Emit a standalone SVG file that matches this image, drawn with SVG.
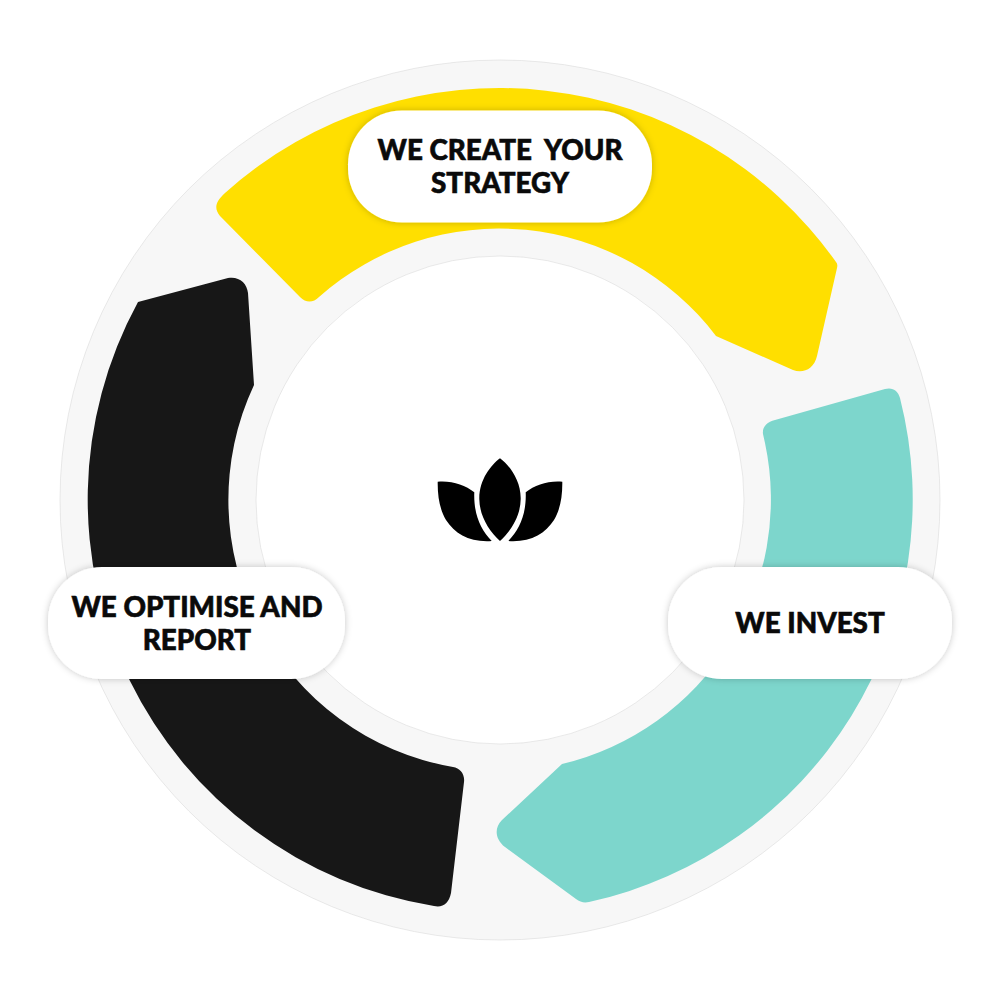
<svg xmlns="http://www.w3.org/2000/svg" width="1000" height="1000" viewBox="0 0 1000 1000">
<defs>
<filter id="pillShadow" x="-15%" y="-30%" width="130%" height="160%"><feDropShadow dx="0" dy="0" stdDeviation="3.500" flood-color="#000" flood-opacity="0.22"/></filter>
</defs>
<style>
.pill{fill:#fff;filter:url(#pillShadow)}
.lbl{font-family:"Lato","Liberation Sans",sans-serif;font-weight:900;font-size:27.8px;fill:#0a0a0a;stroke:#0a0a0a;stroke-width:.6px;text-anchor:middle;white-space:pre}
.ring{stroke:#d4d4d4;stroke-width:.5}
</style>
<rect width="1000" height="1000" fill="#fff"/>
<g id="ring">
<circle class="ring" cx="500" cy="500" r="440" fill="#f7f7f7"/>
<circle class="ring" cx="500" cy="500" r="244" fill="#fff"/>
</g>
<g id="connectors">
<path id="arc-yellow" fill="#ffdf00" d="M225 193A412 412 0 0 1 836 262Q838 264 837 268L817 356C814 369 803 374 793 370L716 336A272 272 0 0 0 319 297C313 303 306 303 300 297L220 216C214 209 215 202 225 193Z"/>
<path id="arc-teal" fill="#7dd6cc" d="M775 420L885 389C893 387 898 391 900 398A412 412 0 0 1 589 902C584 903 580 902 576 899L505 847C495 839 494 828 502 820L562 764A272 272 0 0 0 765 443L763 434C762 427 767 422 775 420Z"/>
<path id="arc-black" fill="#171717" d="M138 302L228 278C239 276 247 283 248 293L254 385A271 271 0 0 0 453 767C460 768 465 774 464 782L451 893C449 903 443 908 434 906A412 412 0 0 1 138 302Z"/>
</g>
<g id="node-strategy">
<rect class="pill" x="348" y="110.500" width="304" height="112" rx="54"/>
<text class="lbl" x="500" y="160">WE CREATE  YOUR</text>
<text class="lbl" x="500" y="193">STRATEGY</text>
</g>
<g id="node-invest">
<rect class="pill" x="668" y="567" width="284" height="112" rx="54"/>
<text class="lbl" x="810" y="633">WE INVEST</text>
</g>
<g id="node-optimise">
<rect class="pill" x="48" y="567" width="297" height="112" rx="54"/>
<text class="lbl" x="197" y="616.500">WE OPTIMISE AND</text>
<text class="lbl" x="197" y="650">REPORT</text>
</g>
<g id="logo" fill="#000">
<path d="M500 458.300C491 465 479 480 479.300 499C479.500 516 489 531 500 541C511 531 520.500 516 520.700 499C521 480 509 465 500 458.300Z"/>
<path d="M437.700 481.700C452 480.500 465 485 474.300 492.300C473.500 513 480 529 491.700 541C470 542.500 455 534 446 520C440 510 437.500 497 437.700 481.700Z"/>
<path d="M562.300 481.700C548 480.500 535 485 525.700 492.300C526.500 513 520 529 508.300 541C530 542.500 545 534 554 520C560 510 562.500 497 562.300 481.700Z"/>
</g>
</svg>
